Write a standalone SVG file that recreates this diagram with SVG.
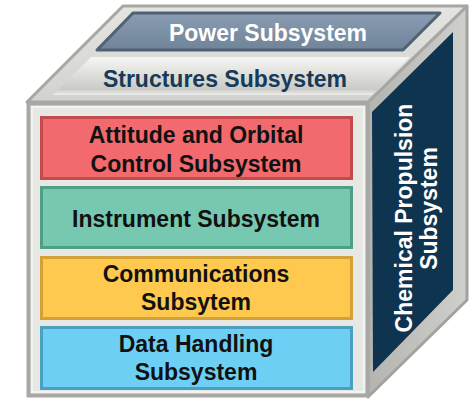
<svg xmlns="http://www.w3.org/2000/svg" width="474" height="404" viewBox="0 0 474 404">
  <defs>
    <linearGradient id="gTop" x1="0" y1="0" x2="0" y2="1">
      <stop offset="0" stop-color="#e4e4e0"/>
      <stop offset="1" stop-color="#d2d2ce"/>
    </linearGradient>
    <linearGradient id="gRight" x1="0" y1="0" x2="1" y2="0">
      <stop offset="0" stop-color="#b4b4b0"/>
      <stop offset="1" stop-color="#cfcfcb"/>
    </linearGradient>
    <linearGradient id="gPower" x1="0" y1="0" x2="0" y2="1">
      <stop offset="0" stop-color="#8a9db2"/>
      <stop offset="1" stop-color="#6f8399"/>
    </linearGradient>
    <linearGradient id="gStruct" x1="0" y1="0" x2="0" y2="1">
      <stop offset="0" stop-color="#f6f6f4"/>
      <stop offset="0.85" stop-color="#cacac6"/>
      <stop offset="1" stop-color="#eeeeec"/>
    </linearGradient>
  </defs>
  <style>
    .t { font-family: "Liberation Sans", Arial, sans-serif; font-weight: bold; font-size: 23px; text-anchor: middle; }
    .dark { fill: #111111; }
    .white { fill: #ffffff; }
    .box { stroke-width: 3; }
  </style>
  <rect width="474" height="404" fill="#ffffff"/>

  <g id="cube">
    <polygon points="368,102 467,6 467,300 368,397" fill="url(#gRight)" stroke="#a2a29f" stroke-width="3" stroke-linejoin="round"/>
    <polygon points="27,102 123,6 467,6 368,102" fill="url(#gTop)" stroke="#a6a6a3" stroke-width="3" stroke-linejoin="round"/>
    <rect x="28.5" y="103.5" width="339" height="292" fill="#e7e7e3" stroke="#a8a8a5" stroke-width="4"/>
    <rect x="32" y="107" width="332" height="285" fill="none" stroke="#f3f3f1" stroke-width="2"/>
  </g>

  <g id="power-subsystem">
    <polygon points="133,13 440,13 403,50 97,50" fill="url(#gPower)" stroke="#4f6174" stroke-width="3" stroke-linejoin="round"/>
    <text class="t white" x="268" y="41">Power Subsystem</text>
  </g>

  <g id="structures-subsystem">
    <polygon points="91,57 410,57 372,95 53,95" fill="url(#gStruct)"/>
    <text class="t" x="225" y="87" fill="#163a57">Structures Subsystem</text>
  </g>

  <g id="chemical-propulsion-subsystem">
    <polygon points="372,112 453,32 453,290 373,372" fill="#0f3450"/>
    <text class="t white" transform="translate(412,218) rotate(-90)">Chemical Propulsion</text>
    <text class="t white" transform="translate(437,208.5) rotate(-90)">Subsystem</text>
  </g>

  <g id="attitude-orbital-control">
    <rect class="box" x="41.5" y="117.5" width="310" height="61" fill="#f26a6d" stroke="#c44b4d"/>
    <text class="t dark" x="196" y="143">Attitude and Orbital</text>
    <text class="t dark" x="196" y="172">Control Subsystem</text>
  </g>

  <g id="instrument-subsystem">
    <rect class="box" x="41.5" y="187.5" width="310" height="60" fill="#76c9b0" stroke="#4f9e86"/>
    <text class="t dark" x="196" y="227">Instrument Subsystem</text>
  </g>

  <g id="communications-subsystem">
    <rect class="box" x="41.5" y="257.5" width="310" height="61" fill="#ffc84f" stroke="#d2a236"/>
    <text class="t dark" x="196" y="282">Communications</text>
    <text class="t dark" x="196" y="310">Subsytem</text>
  </g>

  <g id="data-handling-subsystem">
    <rect class="box" x="41.5" y="327.5" width="310" height="61" fill="#6dcff4" stroke="#4b9fc1"/>
    <text class="t dark" x="196" y="352">Data Handling</text>
    <text class="t dark" x="196" y="380">Subsystem</text>
  </g>

  <g id="connectors"/>
</svg>
